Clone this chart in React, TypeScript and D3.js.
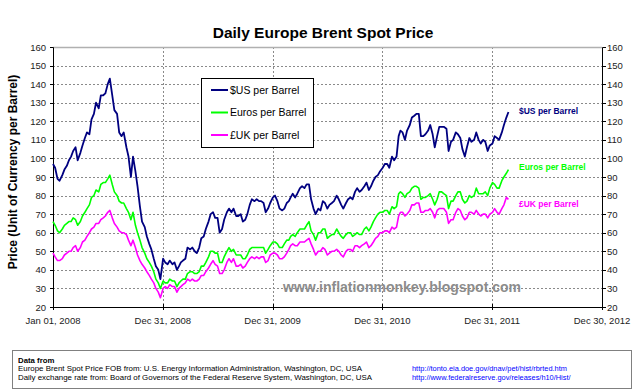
import React from 'react';
import * as d3 from 'd3';

// weekly-ish samples: 4 per month (days 1, 8, 16, 23), Jan 2008 .. Feb 2012
const sampleDays = [1, 8, 16, 23];
const startYear = 2008;

const usd = [
  // 2008
  97, 95, 89, 88, 91, 94, 96, 99, 101, 104, 106, 99, 103, 107, 111, 114,
  113, 121, 124, 130, 127, 134, 134, 135, 140, 143, 134, 126, 124, 114, 112, 114,
  106, 101, 90, 101, 93, 85, 74, 66, 63, 58, 54, 51, 46, 42, 40, 35,
  // 2009
  46, 44, 43, 45, 43, 44, 40, 42, 44, 45, 46, 52, 51, 52, 50, 49,
  52, 57, 58, 62, 66, 70, 71, 68, 68, 60, 62, 67, 71, 73, 71, 73,
  69, 69, 70, 66, 67, 70, 75, 78, 77, 78, 77, 77, 76, 71, 73, 76,
  // 2010
  79, 80, 77, 73, 72, 73, 76, 77, 79, 81, 79, 81, 84, 85, 84, 86,
  86, 78, 73, 70, 73, 72, 77, 76, 73, 75, 76, 77, 80, 78, 75, 73,
  76, 78, 79, 78, 82, 84, 82, 83, 85, 87, 83, 85, 88, 90, 91, 93,
  // 2011
  95, 97, 97, 95, 101, 99, 101, 112, 115, 114, 110, 115, 118, 122, 123, 124,
  124, 112, 112, 113, 115, 118, 113, 106, 112, 117, 117, 117, 116, 104, 109, 110,
  114, 113, 111, 105, 101, 106, 111, 109, 110, 114, 110, 108, 110, 109, 104, 107,
  // 2012
  108, 112, 111, 110, 114, 118, 122, 125,
];

const eur = [
  // 2008
  66, 64, 61, 60, 62, 64, 65, 66, 66, 68, 67, 64, 66, 69, 71, 73,
  75, 79, 80, 83, 82, 86, 87, 87, 89, 91, 86, 82, 80, 77, 76, 76,
  73, 71, 67, 71, 64, 60, 56, 52, 49, 46, 44, 42, 39, 35, 33, 30,
  // 2009
  34, 33, 33, 35, 34, 34, 31, 33, 34, 35, 35, 38, 39, 39, 38, 38,
  39, 42, 42, 44, 47, 50, 50, 49, 49, 44, 44, 47, 50, 52, 50, 51,
  48, 48, 48, 46, 46, 48, 51, 52, 52, 52, 52, 52, 52, 49, 51, 53,
  // 2010
  55, 55, 54, 52, 52, 54, 56, 56, 58, 59, 58, 60, 62, 62, 62, 64,
  66, 61, 59, 56, 60, 60, 62, 62, 57, 58, 59, 59, 62, 60, 58, 57,
  59, 60, 60, 58, 59, 60, 59, 59, 62, 63, 61, 63, 66, 68, 70, 71,
  // 2011
  71, 72, 72, 70, 74, 73, 74, 81, 82, 81, 79, 81, 82, 84, 85, 85,
  84, 78, 79, 79, 80, 81, 78, 75, 78, 82, 82, 81, 80, 73, 77, 77,
  80, 82, 82, 78, 76, 77, 80, 79, 80, 84, 81, 81, 81, 82, 80, 84,
  // 2012
  87, 86, 84, 84, 88, 90, 92, 94,
];

const gbp = [
  // 2008
  49, 47, 45, 45, 46, 48, 49, 50, 50, 52, 53, 50, 52, 55, 56, 58,
  60, 62, 63, 65, 65, 67, 68, 69, 71, 72, 68, 65, 63, 61, 60, 60,
  59, 56, 53, 56, 52, 48, 45, 43, 41, 39, 37, 35, 33, 30, 28, 25,
  // 2009
  30, 31, 30, 32, 31, 31, 28, 30, 31, 32, 33, 35, 34, 35, 34, 34,
  35, 37, 37, 39, 41, 43, 45, 43, 42, 38, 38, 40, 44, 46, 44, 46,
  42, 42, 43, 41, 42, 44, 46, 47, 46, 47, 46, 47, 47, 44, 45, 48,
  // 2010
  49, 49, 48, 46, 46, 47, 49, 51, 53, 54, 53, 53, 55, 55, 55, 56,
  57, 54, 51, 48, 50, 50, 52, 51, 48, 49, 50, 50, 51, 50, 48, 47,
  50, 51, 51, 50, 53, 53, 52, 53, 54, 55, 52, 53, 55, 57, 58, 60,
  // 2011
  60, 61, 61, 60, 63, 62, 63, 69, 71, 71, 69, 70, 72, 75, 75, 76,
  76, 71, 71, 72, 72, 73, 71, 68, 72, 73, 73, 73, 71, 65, 67, 67,
  71, 73, 72, 69, 67, 68, 71, 71, 70, 72, 70, 69, 70, 70, 68, 70,
  // 2012
  71, 73, 71, 70, 73, 75, 79, 78,
];

const seriesNames = ['$US per Barrel', 'Euros per Barrel', '£UK per Barrel'];
const seriesColors = ['#000080', '#00ff00', '#ff00ff'];
const yTicks = [20, 30, 40, 50, 60, 70, 80, 90, 100, 110, 120, 130, 140, 150, 160];
const xTickDates = ['2008-01-01', '2008-12-31', '2009-12-31', '2010-12-31', '2011-12-31', '2012-12-30'];
const xTickLabels = ['Jan 01, 2008', 'Dec 31, 2008', 'Dec 31, 2009', 'Dec 31, 2010', 'Dec 31, 2011', 'Dec 30, 2012'];

const parse = d3.timeParse('%Y-%m-%d');
const font = "'Liberation Sans', Arial, Helvetica, sans-serif";

export default function App() {
  const left = 53, right = 602, top = 47, bottom = 307;

  const x = d3.scaleTime()
    .domain([parse(xTickDates[0])!, parse(xTickDates[xTickDates.length - 1])!])
    .range([left, right]);
  const y = d3.scaleLinear().domain([20, 160]).range([bottom, top]);

  const dates = usd.map((_, i) => new Date(startYear, Math.floor(i / 4), sampleDays[i % 4]));
  const series = [usd, eur, gbp];

  const line = d3.line<number>()
    .x((_, i) => x(dates[i]))
    .y(d => y(d));

  const py = (v: number) => Math.round(y(v)) + 0.5;
  const px = (s: string) => Math.round(x(parse(s)!)) + 0.5;

  const legendRows = [90, 112.5, 135];
  const endLabelY = [114, 170, 207];

  return (
    <svg width={640} height={392} style={{ position: 'absolute', left: 0, top: 0, background: '#fff' }}
      fontFamily={font}>
      <rect x={0} y={0} width={640} height={392} fill="#fff" />
      <text x={323} y={38} textAnchor="middle" fontSize={15.5} fontWeight="bold">Daily Europe Brent Spot Price</text>

      {/* grid */}
      {yTicks.slice(1, -1).map(v => (
        <line key={'gy' + v} x1={left} x2={right} y1={py(v)} y2={py(v)} stroke="#8a8a8a" strokeDasharray="2,2" />
      ))}
      {xTickDates.slice(1, -1).map(d => (
        <line key={'gx' + d} x1={px(d)} x2={px(d)} y1={top} y2={bottom} stroke="#8a8a8a" strokeDasharray="2,2" />
      ))}

      {/* plot frame + axes */}
      <line x1={left} x2={right} y1={py(160)} y2={py(160)} stroke="#b0b0b0" strokeWidth={1.5} />
      <line x1={left + 0.5} x2={left + 0.5} y1={py(160)} y2={py(20)} stroke="#000" />
      <line x1={right + 0.5} x2={right + 0.5} y1={py(160)} y2={py(20)} stroke="#000" />
      <line x1={left} x2={right + 1} y1={py(20)} y2={py(20)} stroke="#000" />
      {yTicks.map(v => (
        <g key={'ty' + v}>
          <line x1={left - 3} x2={left + 0.5} y1={py(v)} y2={py(v)} stroke="#000" />
          <line x1={right + 0.5} x2={right + 4} y1={py(v)} y2={py(v)} stroke="#000" />
          <text x={46} y={y(v) + 3.5} textAnchor="end" fontSize={9.5} fill="#222">{v}</text>
          <text x={607} y={y(v) + 3.5} textAnchor="start" fontSize={9.5} fill="#222">{v}</text>
        </g>
      ))}
      {xTickDates.map((d, i) => (
        <g key={'tx' + d}>
          <line x1={px(d)} x2={px(d)} y1={bottom - 3} y2={bottom + 3} stroke="#000" />
          <text x={x(parse(d)!)} y={324} textAnchor="middle" fontSize={9.5} fill="#222">{xTickLabels[i]}</text>
        </g>
      ))}

      <text transform="translate(17,172) rotate(-90)" textAnchor="middle" fontSize={12} fontWeight="bold">
        Price (Unit of Currency per Barrel)
      </text>

      <text x={283} y={292} fontSize={14} fontWeight="bold" fill="#8c8c8c">www.inflationmonkey.blogspot.com</text>

      {/* series */}
      {series.map((s, k) => (
        <path key={'s' + k} d={line(s) ?? ''} fill="none" stroke={seriesColors[k]}
          strokeWidth={k === 0 ? 1.8 : 1.6} strokeLinejoin="round" />
      ))}

      {seriesNames.map((n, k) => (
        <text key={'end' + k} x={519} y={endLabelY[k]} fontSize={8.5} fontWeight="bold" fill={seriesColors[k]}>{n}</text>
      ))}

      {/* legend */}
      <rect x={201.5} y={78.5} width={112} height={69} fill="#fff" stroke="#000" />
      {seriesNames.map((n, k) => (
        <g key={'lg' + k}>
          <line x1={211} x2={228} y1={legendRows[k]} y2={legendRows[k]} stroke={seriesColors[k]} strokeWidth={2} />
          <text x={230} y={legendRows[k] + 3.8} fontSize={10.5}>{n}</text>
        </g>
      ))}

      {/* footer */}
      <rect x={12.5} y={350.5} width={619} height={38} fill="#fff" stroke="#808080" />
      <text x={18} y={362.5} fontSize={7.8} fontWeight="bold">Data from</text>
      <text x={18} y={371} fontSize={7.9}>Europe Brent Spot Price FOB from: U.S. Energy Information Administration, Washington, DC, USA</text>
      <text x={18} y={379.5} fontSize={7.9}>Daily exchange rate from: Board of Governors of the Federal Reserve System, Washington, DC, USA</text>
      <text x={412} y={371} fontSize={7.4} fill="#0000ff">http://tonto.eia.doe.gov/dnav/pet/hist/rbrted.htm</text>
      <text x={412} y={379.5} fontSize={7.4} fill="#0000ff">http://www.federalreserve.gov/releases/h10/Hist/</text>
    </svg>
  );
}
